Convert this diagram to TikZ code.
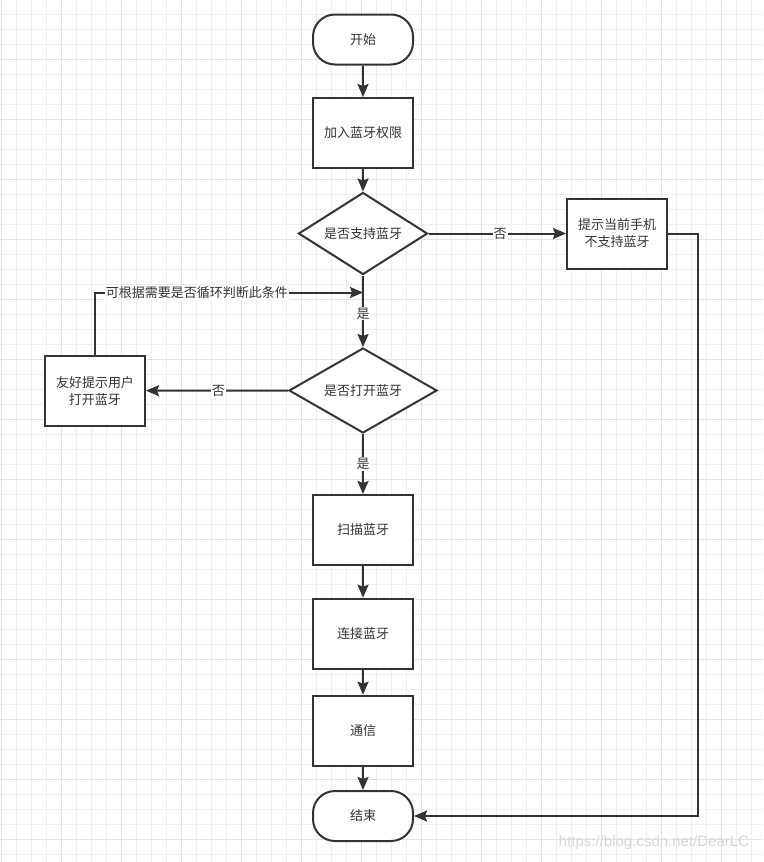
\documentclass[tikz,border=0pt]{standalone}
\usepackage{fontspec}
\setmainfont{Noto Sans CJK SC}
\newfontfamily\wmfont{Liberation Sans}
\usetikzlibrary{arrows.meta,shapes.geometric}
\definecolor{ln}{HTML}{333333}
\definecolor{gridminor}{HTML}{EEEEEE}
\definecolor{gridmajor}{HTML}{E3E3E3}
\definecolor{wm}{HTML}{D6D6D6}
\begin{document}
\begin{tikzpicture}[x=1pt,y=-1pt,
  base/.style={draw=ln,line width=2pt,fill=white,inner sep=0pt,align=center,text=ln,font=\fontsize{13}{17}\selectfont},
  box/.style={base,rectangle,minimum width=100pt,minimum height=70pt},
  term/.style={base,rectangle,rounded corners=22pt,minimum width=100pt,minimum height=50pt},
  dec/.style={base,diamond},
  arr/.style={draw=ln,line width=2pt,-{Stealth[length=13pt,width=11pt,inset=2pt]}},
  lbl/.style={fill=white,inner sep=1pt,text=ln,font=\fontsize{13}{17}\selectfont}
]
\useasboundingbox (0,0) rectangle (763,862);
\fill[white] (0,0) rectangle (763,862);
% grid
\foreach \x in {1,16,...,763} \draw[gridminor,line width=1pt] (\x,0) -- (\x,862);
\foreach \y in {14.3,29.3,...,862} \draw[gridminor,line width=1pt] (0,\y) -- (763,\y);
\foreach \x in {1,61,...,763} \draw[gridmajor,line width=1pt] (\x,0) -- (\x,862);
\foreach \y in {59.3,119.3,...,862} \draw[gridmajor,line width=1pt] (0,\y) -- (763,\y);

% nodes
\node[term] (start) at (363,39.5) {开始};
\node[box] (perm) at (363,133) {加入蓝牙权限};
\node[dec,aspect=1.6,minimum width=129pt,minimum height=82pt] (d1) at (363,233.5) {是否支持蓝牙};
\node[box] (nosup) at (617,233.5) {提示当前手机\\不支持蓝牙};
\node[dec,aspect=1.75,minimum width=148pt,minimum height=85pt] (d2) at (363,390.5) {是否打开蓝牙};
\node[box] (friendly) at (95,390.7) {友好提示用户\\打开蓝牙};
\node[box] (scan) at (363,530) {扫描蓝牙};
\node[box] (conn) at (363,633.7) {连接蓝牙};
\node[box] (comm) at (363,730.7) {通信};
\node[term] (end) at (363,816) {结束};
\coordinate (merge) at (363,292.5);

% connectors
\draw[arr] (start) -- (perm);
\draw[arr] (perm) -- (d1);
\draw[arr] (d1.east) -- node[lbl,pos=0.52]{否} (nosup.west);
\draw[arr] (d1.south) -- node[lbl,pos=0.53]{是} (d2.north);
\draw[arr] (d2.west) -- node[lbl,pos=0.49]{否} (friendly.east);
\draw[arr] (d2.south) -- node[lbl,pos=0.5]{是} (scan.north);
\draw[arr] (scan) -- (conn);
\draw[arr] (conn) -- (comm);
\draw[arr] (comm) -- (end);
\draw[arr] (friendly.north) |- node[lbl,pos=0.69]{可根据需要是否循环判断此条件} (merge);
\draw[arr] (nosup.east) -- ++(30,0) |- (end.east);

% watermark
\node[text=wm,font=\wmfont\fontsize{15}{18}\selectfont,inner sep=0pt] (wmark) at (654,843) {https://blog.csdn.net/DearLC};
\end{tikzpicture}
\end{document}
